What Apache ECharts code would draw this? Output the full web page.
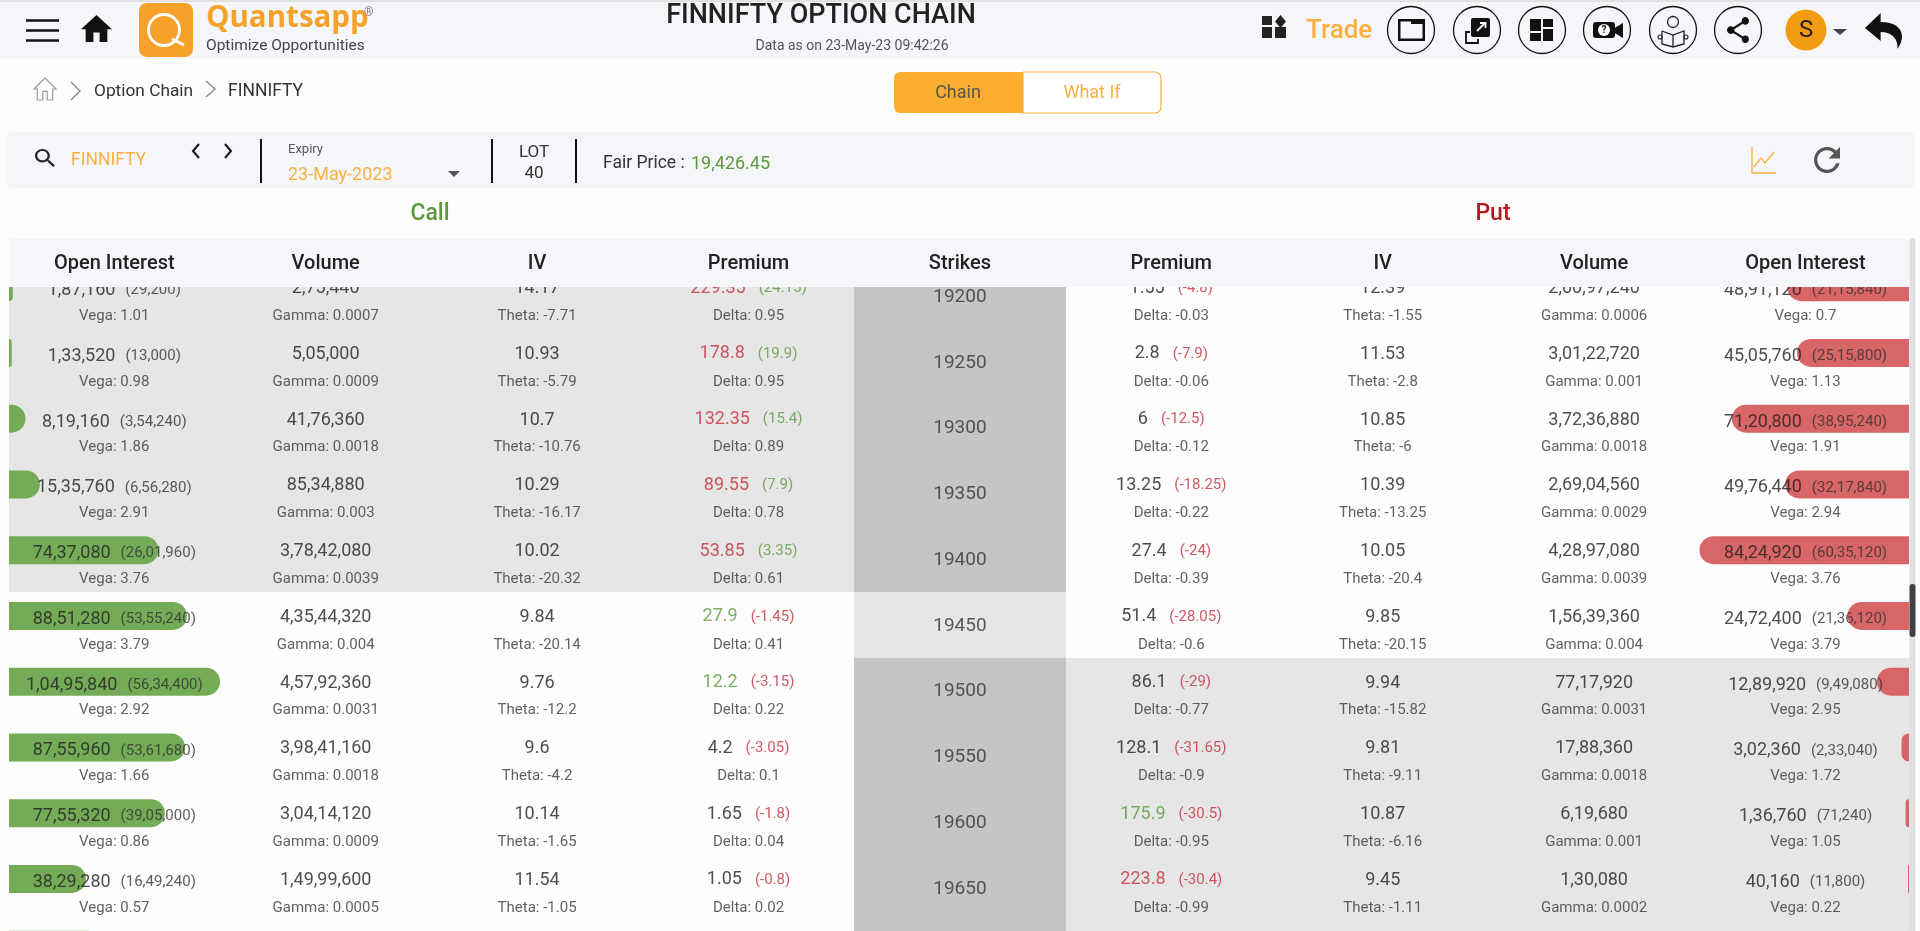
<!DOCTYPE html>
<html>
<head>
<meta charset="utf-8">
<title>FINNIFTY Option Chain</title>
<script src="https://cdn.jsdelivr.net/npm/echarts@6/dist/echarts.min.js"></script>
<style>
html,body{margin:0;padding:0;background:#fdfdfd;overflow:hidden;height:931px}
/* taller than the window: the last strike row runs off the bottom of the page */
#main{width:1920px;height:1000px}
</style>
</head>
<body>
<div id="main"></div>
<script>
// data
var atmStrike = 19450;
var columns = ['Open Interest','Volume','IV','Premium','Strikes','Premium ','IV ','Volume ','Open Interest '];
var strikes = ['19200','19250','19300','19350','19400','19450','19500','19550','19600','19650','19700'];

var callOI = [187160,133520,819160,1535760,7437080,8851280,10495840,8755960,7755320,3829280,4600000];
var callOIChg = [29200,13000,354240,656280,2601960,5355240,5634400,5361680,3905000,1649240];
var callVega = [1.01,0.98,1.86,2.91,3.76,3.79,2.92,1.66,0.86,0.57];
var callVolume = [275440,505000,4176360,8534880,37842080,43544320,45792360,39841160,30414120,14999600];
var callGamma = [0.0007,0.0009,0.0018,0.003,0.0039,0.004,0.0031,0.0018,0.0009,0.0005];
var callIV = [14.17,10.93,10.7,10.29,10.02,9.84,9.76,9.6,10.14,11.54];
var callTheta = [-7.71,-5.79,-10.76,-16.17,-20.32,-20.14,-12.2,-4.2,-1.65,-1.05];
var callPrem = [229.35,178.8,132.35,89.55,53.85,27.9,12.2,4.2,1.65,1.05];
var callPremChg = [24.15,19.9,15.4,7.9,3.35,-1.45,-3.15,-3.05,-1.8,-0.8];
var callPremTone = ['r','r','r','r','r','g','g','k','k','k'];
var callDelta = [0.95,0.95,0.89,0.78,0.61,0.41,0.22,0.1,0.04,0.02];

var putOI = [4891120,4505760,7120800,4976440,8424920,2472400,1289920,302360,136760,40160,60000];
var putOIChg = [2115840,2515800,3895240,3217840,6035120,2136120,949080,233040,71240,11800];
var putVega = [0.7,1.13,1.91,2.94,3.76,3.79,2.95,1.72,1.05,0.22];
var putVolume = [20097240,30122720,37236880,26904560,42897080,15639360,7717920,1788360,619680,130080];
var putGamma = [0.0006,0.001,0.0018,0.0029,0.0039,0.004,0.0031,0.0018,0.001,0.0002];
var putIV = [12.39,11.53,10.85,10.39,10.05,9.85,9.94,9.81,10.87,9.45];
var putTheta = [-1.55,-2.8,-6,-13.25,-20.4,-20.15,-15.82,-9.11,-6.16,-1.11];
var putPrem = [1.55,2.8,6,13.25,27.4,51.4,86.1,128.1,175.9,223.8];
var putPremChg = [-4.8,-7.9,-12.5,-18.25,-24,-28.05,-29,-31.65,-30.5,-30.4];
var putPremTone = ['k','k','k','k','k','k','k','k','g','r'];
var putDelta = [-0.03,-0.06,-0.12,-0.22,-0.39,-0.6,-0.77,-0.9,-0.95,-0.99];

var FONT = 'Roboto';
var GREEN = '#5d9a3c', RED = '#c5303c', ORANGE = '#f9b040', BAND = '#f5f6fa';

// indian digit grouping, 1,04,95,840
function inr(n){
    var s = String(n);
    if(s.length<=3) return s;
    var tail = s.slice(-3), head = s.slice(0,-3);
    return head.replace(/\B(?=(\d{2})+$)/g,',')+','+tail;
}

var rich = {
    k:{fontFamily:FONT,fontSize:18,color:'#222'},
    g:{fontFamily:FONT,fontSize:18,color:GREEN},
    r:{fontFamily:FONT,fontSize:18,color:RED},
    oi:{fontFamily:FONT,fontSize:15,color:'#333',padding:[0,0,0,10]},
    up:{fontFamily:FONT,fontSize:15,color:GREEN,padding:[0,0,0,13]},
    dn:{fontFamily:FONT,fontSize:15,color:RED,padding:[0,0,0,13]},
    sub:{fontFamily:FONT,fontSize:15,color:'#3a3a3a'},
    st:{fontFamily:FONT,fontSize:19,color:'#333'}
};

// one scatter series = one line of text in one column
function textSeries(col,texts,dy){
    return {
        type:'scatter',xAxisIndex:0,yAxisIndex:0,z:4,silent:true,
        symbolSize:0,
        data:texts.map(function(t,i){return {value:[columns[col],strikes[i]],t:t};}),
        label:{show:true,position:'inside',offset:[0,dy],rich:rich,
            formatter:function(p){return p.data.t;}}
    };
}
function premText(v,chg,tone){
    return v.map(function(x,i){
        return '{'+tone[i]+'|'+x+'}{'+(chg[i]<0?'dn':'up')+'|('+chg[i]+')}';
    });
}
function oiText(v,chg){
    return chg.map(function(x,i){return '{k|'+inr(v[i])+'}{oi|('+inr(x)+')}';});
}
function plain(v){return v.map(function(x){return '{k|'+x+'}';});}
function vol(v){return v.map(function(x){return '{k|'+inr(x)+'}';});}
function sub(name,v){return v.map(function(x){return '{sub|'+name+': '+x+'}';});}

// cell backgrounds: in the money rows are grey, strike column darker
var cells = [];
strikes.forEach(function(s){
    columns.forEach(function(c,i){
        var itm = i<4 ? +s<atmStrike : i>4 ? +s>atmStrike : false;
        var fill = itm ? '#e5e6e5' : null;
        if(i==4) fill = +s==atmStrike ? '#e5e6e5' : '#c5c5c5';
        if(fill) cells.push({value:[c,s],fill:fill});
    });
});

// page chrome helpers
function rect(x,y,w,h,fill,r,stroke){
    return {type:'rect',z:10,silent:true,shape:{x:x,y:y,width:w,height:h,r:r||0},
        style:{fill:fill,stroke:stroke||null,lineWidth:stroke?1.2:0}};
}
function txt(x,y,t,size,color,align,weight,family){
    return {type:'text',z:12,silent:true,
        style:{x:x,y:y+1,text:t,fontSize:size,fill:color,align:align||'center',verticalAlign:'middle',
            fontWeight:weight||400,fontFamily:family||FONT}};
}
// svg path icons go through a custom series, the graphic component has no path type
function icon(path,x,y,w,h,fill,stroke,lw){
    return {type:'path',shape:{pathData:path,layout:'cover',x:x,y:y,width:w,height:h},
        style:{fill:fill||'none',stroke:stroke||'none',lineWidth:lw||0}};
}
function line(x1,y1,x2,y2,color,w){
    return {type:'line',z:12,silent:true,shape:{x1:x1,y1:y1,x2:x2,y2:y2},
        style:{stroke:color,lineWidth:w||1}};
}
function polyline(pts,color,w){
    return {type:'polyline',z:12,silent:true,shape:{points:pts},
        style:{stroke:color,lineWidth:w||1,fill:null}};
}
function circle(cx,cy,r,fill,stroke,lw){
    return {type:'circle',z:12,silent:true,shape:{cx:cx,cy:cy,r:r},
        style:{fill:fill||null,stroke:stroke||null,lineWidth:lw||0}};
}

var HOME = 'M10 20v-6h4v6h5v-8h3L12 3 2 12h3v8z';
var SEARCH = 'M15.5 14h-.79l-.28-.27C15.41 12.59 16 11.11 16 9.5 16 5.91 13.09 3 9.5 3S3 5.91 3 9.5 5.91 16 9.5 16c1.61 0 3.09-.59 4.23-1.57l.27.28v.79l5 4.99L20.49 19l-4.99-5zm-6 0C7.01 14 5 11.99 5 9.5S7.01 5 9.5 5 14 7.01 14 9.5 11.99 14 9.5 14z';
var REFRESH = 'M17.65 6.35C16.2 4.9 14.21 4 12 4c-4.42 0-7.99 3.58-7.99 8s3.57 8 7.99 8c3.73 0 6.84-2.55 7.73-6h-2.08c-.82 2.33-3.04 4-5.65 4-3.31 0-6-2.69-6-6s2.69-6 6-6c1.66 0 3.14.69 4.22 1.78L13 11h7V4l-2.35 2.35z';
var SHARE = 'M18 16.08c-.76 0-1.44.3-1.96.77L8.91 12.7c.05-.23.09-.46.09-.7s-.04-.47-.09-.7l7.05-4.11c.54.5 1.25.81 2.04.81 1.66 0 3-1.34 3-3s-1.34-3-3-3-3 1.34-3 3c0 .24.04.47.09.7L8.04 9.81C7.5 9.31 6.79 9 6 9c-1.66 0-3 1.34-3 3s1.34 3 3 3c.79 0 1.5-.31 2.04-.81l7.12 4.16c-.05.21-.08.43-.08.65 0 1.61 1.31 2.92 2.92 2.92s2.92-1.31 2.92-2.92-1.31-2.92-2.92-2.92z';
var BACK = 'M14 0L0 15L14 28V19C24 19 30 26 29 36C37 24 34 9 14 9Z';

var icons = [
    icon(HOME,81,15,31,27,'#111'),
    icon('M5 0L10 7L5 14L0 7Z',1275,15,11,13,'#222'),
    icon('M0 0H27V22H0ZM2.5 2.5V19.5H24.5V5H13V2.5Z',1398,19,27,22,'#111'),
    icon('M0 5L9 0V16L0 11Z',1615,23,8,15,'#111'),
    icon(SHARE,1727,17,22,26,'#111'),
    icon('M0 0H14L7 6Z',1833,29,14,6,'#444'),
    icon(BACK,1865,13,37,36,'#111'),
    icon('M12 3L2 12H5V21H10V14H14V21H19V12H22Z',34,78,22,22,null,'#999',1.2),
    icon(SEARCH,35,149,20,18,'#222'),
    icon('M0 0H12L6 6Z',448,171,12,6,'#555'),
    icon(REFRESH,1814,147,26,26,'#555')
];

var chrome = [
    // top bar
    rect(0,1,1920,58,BAND),
    line(0,1,1920,1,'#d9d9d9',1.5),
    line(26,20.5,59,20.5,'#111',2.6),line(26,30.5,59,30.5,'#111',2.6),line(26,40.5,59,40.5,'#111',2.6),
    rect(139,3,54,54,'#f5a12a',8),
    circle(164,30,15.5,null,'#fff',2.8),
    line(172,39,184,45,'#fff',2.8),
    txt(206,18,'Quantsapp',29.5,'#f6a12a','left',700,'Open Sans'),
    txt(364,12,'®',12,'#888','left'),
    txt(206,45,'Optimize Opportunities',15.5,'#444','left',400),
    txt(821,15,'FINNIFTY OPTION CHAIN',27,'#222','center',500),
    txt(852,45,'Data as on 23-May-23 09:42:26',14,'#555'),
    // top right
    rect(1262,27,10,11,'#222'),rect(1275,27,11,11,'#222'),rect(1262,16,10,9,'#222'),
    txt(1306,30,'Trade',26,ORANGE,'left',500),
    circle(1411,30,23.5,null,'#111',1.3),circle(1477,30,23.5,null,'#111',1.3),circle(1542,30,23.5,null,'#111',1.3),
    circle(1607,30,23.5,null,'#111',1.3),circle(1673,30,23.5,null,'#111',1.3),circle(1738,30,23.5,null,'#111',1.3),
    // window tab
    rect(1412,19,13,5,'#111'),
    // external link
    rect(1471,18,19,19,'#111',2),
    line(1477,31,1485,23,'#fff',1.8),polyline([[1480,23],[1485.5,23],[1485.5,28]],'#fff',1.8),
    polyline([[1470,32],[1466,32],[1466,43],[1478,43],[1478,39]],'#111',1.8),
    // dashboard
    rect(1530,19,11,12,'#111'),rect(1543,19,10,8,'#111'),rect(1530,33,11,8,'#111'),rect(1543,29,10,12,'#111'),
    // video help
    rect(1593,22,22,16,'#111',3),
    circle(1604,30,6,'#fff'),
    txt(1604,29.5,'?',10,'#111','center',700),
    // reader
    circle(1673,22,5.5,null,'#222',1.3),
    polyline([[1662,31],[1673,35],[1684,31],[1684,44],[1673,47],[1662,44],[1662,31]],'#222',1.3),
    line(1673,35,1673,47,'#222',1.3),
    circle(1660,37,2,null,'#222',1.1),circle(1686,37,2,null,'#222',1.1),
    // user
    circle(1806,30,20.5,'#f39c12'),
    txt(1806,30,'S',24,'#222','center',400),

    // breadcrumb
    polyline([[71,82],[80,91],[71,100]],'#888',1.4),
    txt(94,91,'Option Chain',17.3,'#333','left'),
    polyline([[206,81],[215,89],[206,97]],'#888',1.4),
    txt(228,91,'FINNIFTY',17.5,'#333','left'),

    // tabs
    rect(1023,72,138,41,'#fff',[0,6,6,0],ORANGE),
    rect(894,72,129,41,'#fbae30',[6,0,0,6]),
    txt(958,92,'Chain',18,'#555'),
    txt(1092,92,'What If',18,ORANGE),

    // toolbar
    rect(7,132,1908,56,BAND,6),
    txt(71,160,'FINNIFTY',17.5,ORANGE,'left'),
    polyline([[199,144],[193,151],[199,158]],'#111',2),
    polyline([[225,144],[231,151],[225,158]],'#111',2),
    line(261,139,261,183,'#111',2),line(492,139,492,183,'#111',2),line(576,139,576,183,'#111',2),
    txt(288,149,'Expiry',13,'#555','left'),
    txt(288,174,'23-May-2023',18,ORANGE,'left'),
    txt(534,152,'LOT',17,'#333'),
    txt(534,173,'40',17,'#333'),
    txt(603,163,'Fair Price : ',17.5,'#333','left'),
    txt(691,163,'19,426.45',18,GREEN,'left'),
    polyline([[1752,147],[1752,173],[1776,173]],ORANGE,1.3),
    polyline([[1754,167],[1761,158],[1765,163],[1774,152]],ORANGE,1.3),

    // Call / Put and table header band
    txt(430,213,'Call',23,GREEN,'center',500),
    txt(1493,213,'Put',23,'#b5191f','center',500),
    rect(9,239,1900,48,BAND),
    // scrollbar
    rect(1909.5,238,6,693,'#e0e0e0',[3,3,0,0]),
    rect(1909.5,584,6,53,'#3f4244',3)
];

var option = {
    animation:false,
    backgroundColor:'#fdfdfd',
    textStyle:{fontFamily:FONT},
    grid:[
        {left:8.6,top:263.25,width:1902.6,height:723.25},
        {left:9,top:254.25,width:211,height:723.25},
        {left:1699.5,top:254.25,width:209.5,height:723.25}
    ],
    xAxis:[
        {type:'category',gridIndex:0,position:'top',data:columns,z:15,
            axisLine:{show:false},axisTick:{show:false},splitLine:{show:false},
            axisLabel:{color:'#222',fontFamily:FONT,fontSize:20,fontWeight:500,verticalAlign:'middle',margin:-1,
                interval:0,formatter:function(v){return v.trim();}}},
        {type:'value',gridIndex:1,min:0,max:10495840,show:false},
        {type:'value',gridIndex:2,min:0,max:8424920,inverse:true,show:false}
    ],
    yAxis:[
        {type:'category',gridIndex:0,data:strikes,inverse:true,show:false},
        {type:'category',gridIndex:1,data:strikes,inverse:true,show:false},
        {type:'category',gridIndex:2,data:strikes,inverse:true,show:false}
    ],
    graphic:{elements:chrome},
    series:[
        {type:'custom',xAxisIndex:0,yAxisIndex:0,z:1,silent:true,data:cells,
            encode:{x:0,y:1},clip:false,
            renderItem:function(params,api){
                var c = api.coord([api.value(0),api.value(1)]);
                var s = api.size([1,1]);
                // whole pixels so neighbouring cells leave no seam
                var x0 = Math.round(c[0]-s[0]/2), x1 = Math.round(c[0]+s[0]/2);
                var y0 = Math.round(c[1]-s[1]/2), y1 = Math.round(c[1]+s[1]/2);
                return {type:'rect',
                    shape:{x:x0,y:y0,width:x1-x0,height:y1-y0},
                    style:{fill:cells[params.dataIndex].fill}};
            }},
        {type:'bar',xAxisIndex:1,yAxisIndex:1,z:2,silent:true,barWidth:28,data:callOI,
            itemStyle:{color:'#74ab57',borderRadius:[0,14,14,0]}},
        {type:'bar',xAxisIndex:2,yAxisIndex:2,z:2,silent:true,barWidth:28,data:putOI,
            itemStyle:{color:'#d96666',borderRadius:[14,0,0,14]}},

        textSeries(0,oiText(callOI,callOIChg),-5.5),
        textSeries(0,sub('Vega',callVega),20),
        textSeries(1,vol(callVolume),-7.5),
        textSeries(1,sub('Gamma',callGamma),20),
        textSeries(2,plain(callIV),-7.5),
        textSeries(2,sub('Theta',callTheta),20),
        textSeries(3,premText(callPrem,callPremChg,callPremTone),-8),
        textSeries(3,sub('Delta',callDelta),20),

        textSeries(4,strikes.map(function(s){return '{st|'+s+'}';}),1),

        textSeries(5,premText(putPrem,putPremChg,putPremTone),-8),
        textSeries(5,sub('Delta',putDelta),20),
        textSeries(6,plain(putIV),-7.5),
        textSeries(6,sub('Theta',putTheta),20),
        textSeries(7,vol(putVolume),-7.5),
        textSeries(7,sub('Gamma',putGamma),20),
        textSeries(8,oiText(putOI,putOIChg),-5.5),
        textSeries(8,sub('Vega',putVega),20),

        {type:'custom',coordinateSystem:'none',z:13,silent:true,data:[0],clip:false,
            renderItem:function(){return {type:'group',children:icons};}}
    ]
};

var myChart = echarts.init(document.getElementById('main'));
myChart.setOption(option);
</script>
</body>
</html>
